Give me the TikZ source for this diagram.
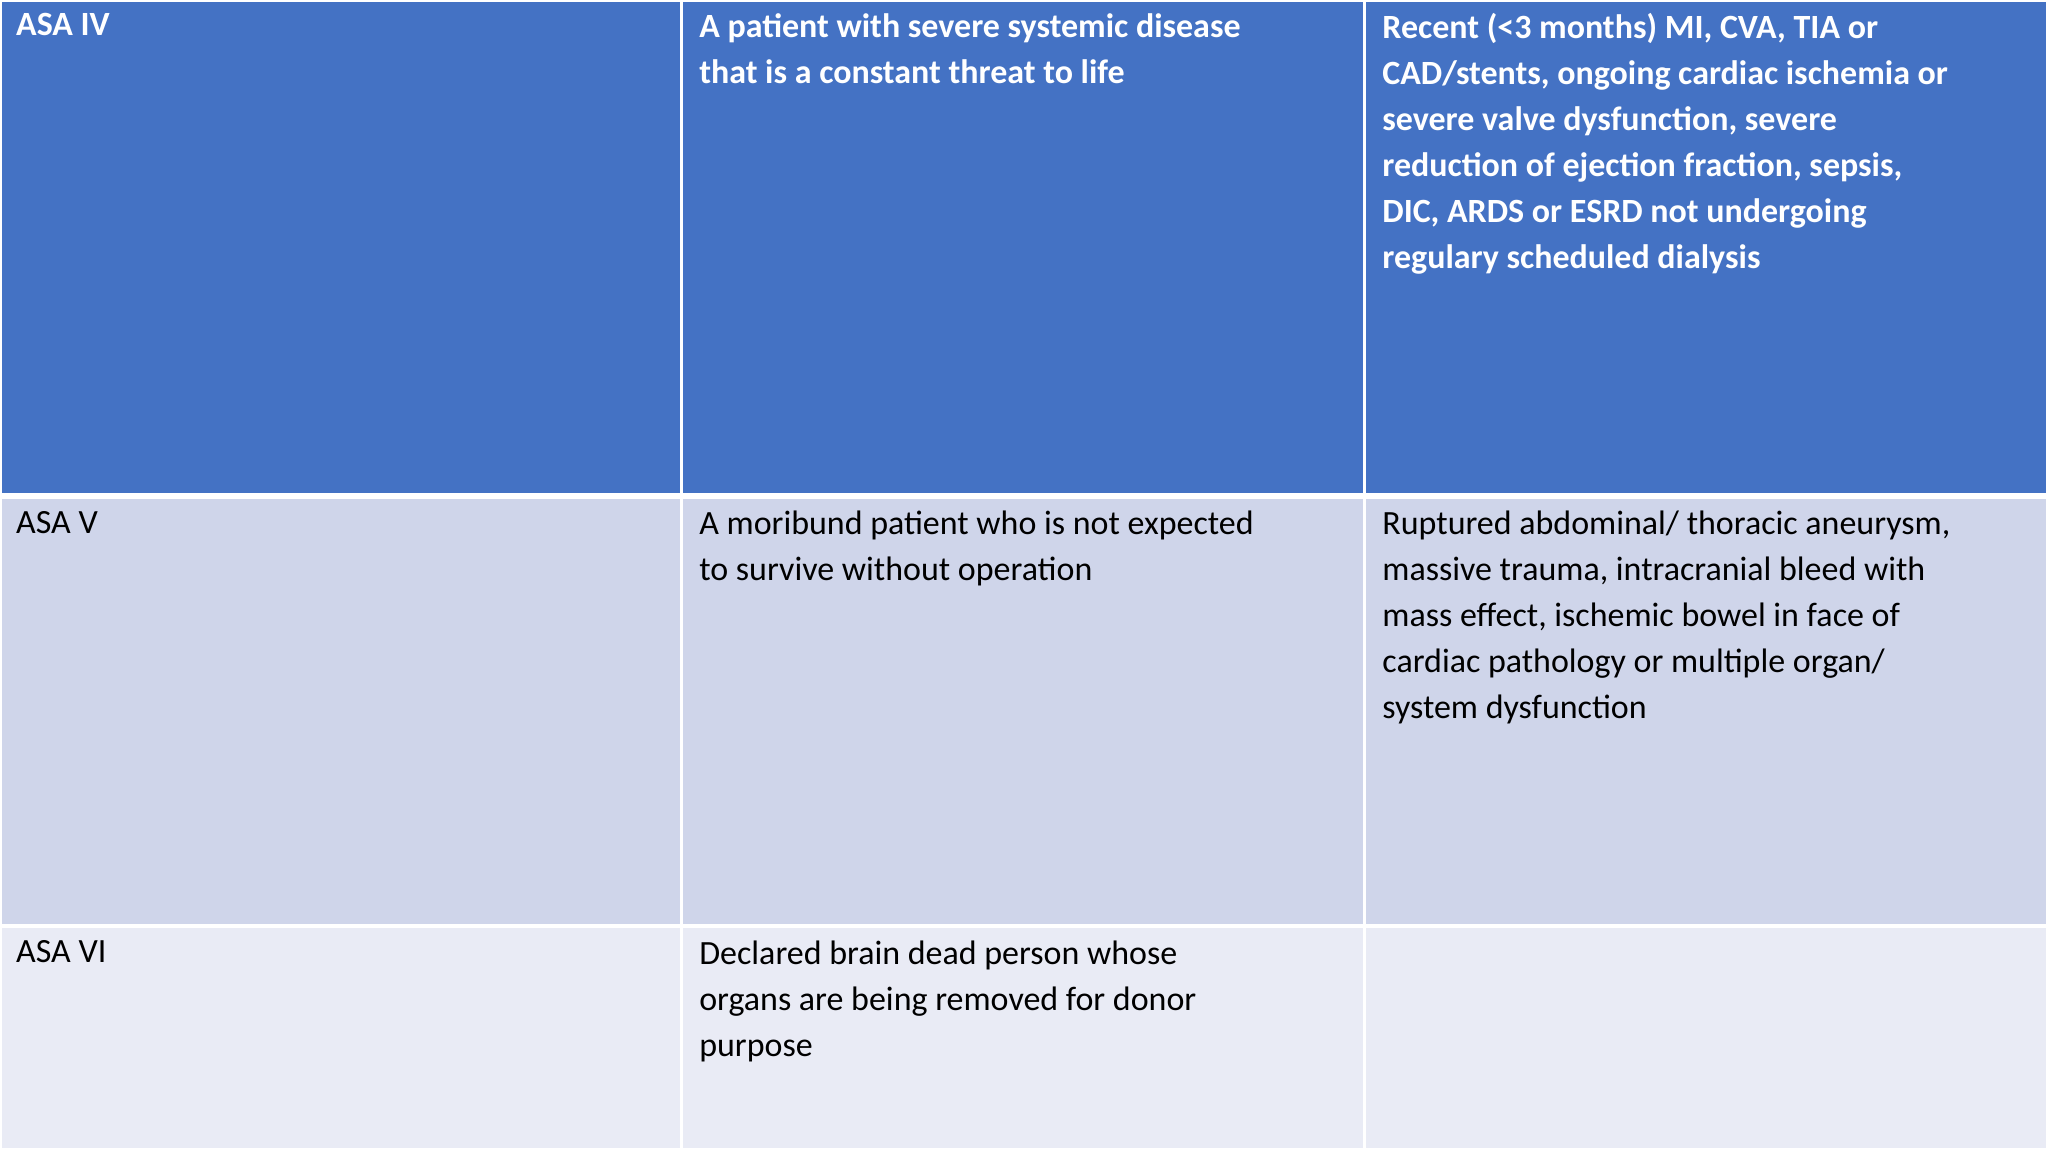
\documentclass[tikz,border=0pt]{standalone}
\usepackage{fontspec}
\setmainfont{Carlito}
\definecolor{hdr}{HTML}{4472C4}
\definecolor{rowa}{HTML}{CFD5EA}
\definecolor{rowb}{HTML}{E9EBF5}
\tikzset{cell/.style={draw=white,line width=1.2pt},
 txt/.style={anchor=north west,inner sep=0pt,align=left,font=\fontsize{13}{17.6}\selectfont},
 htxt/.style={txt,text=white,font=\fontsize{13}{17.6}\selectfont\bfseries}}
\begin{document}
\begin{tikzpicture}[x=0.5pt,y=-0.5pt]
\useasboundingbox (0,0) rectangle (1568,882);
\fill[white] (0,0) rectangle (1568,882);
\foreach \a/\b in {0/522,522/1045,1045/1568}{
 \filldraw[cell,fill=hdr] (\a,0) rectangle (\b,379);
 \filldraw[cell,fill=rowa] (\a,381) rectangle (\b,709);
 \filldraw[cell,fill=rowb] (\a,709) rectangle (\b,880);
}
\draw[white,line width=2pt] (0,380) -- (1568,380);
\node[htxt] (h1) at (12,10) {ASA IV};
\node[htxt] (h2) at (535,10) {A patient with severe systemic disease\\that is a constant threat to life};
\node[htxt] (h3) at (1058,10) {Recent (<3 months) MI, CVA, TIA or\\CAD/stents, ongoing cardiac ischemia or\\severe valve dysfunction, severe\\reduction of ejection fraction, sepsis,\\DIC, ARDS or ESRD not undergoing\\regulary scheduled dialysis};
\node[txt] (a1) at (12,391) {ASA V};
\node[txt] (a2) at (535,391) {A moribund patient who is not expected\\to survive without operation};
\node[txt] (a3) at (1058,391) {Ruptured abdominal/ thoracic aneurysm,\\massive trauma, intracranial bleed with\\mass effect, ischemic bowel in face of\\cardiac pathology or multiple organ/\\system dysfunction};
\node[txt] (b1) at (12,720) {ASA VI};
\node[txt] (b2) at (535,720) {Declared brain dead person whose\\organs are being removed for donor\\purpose};
\end{tikzpicture}
\end{document}
